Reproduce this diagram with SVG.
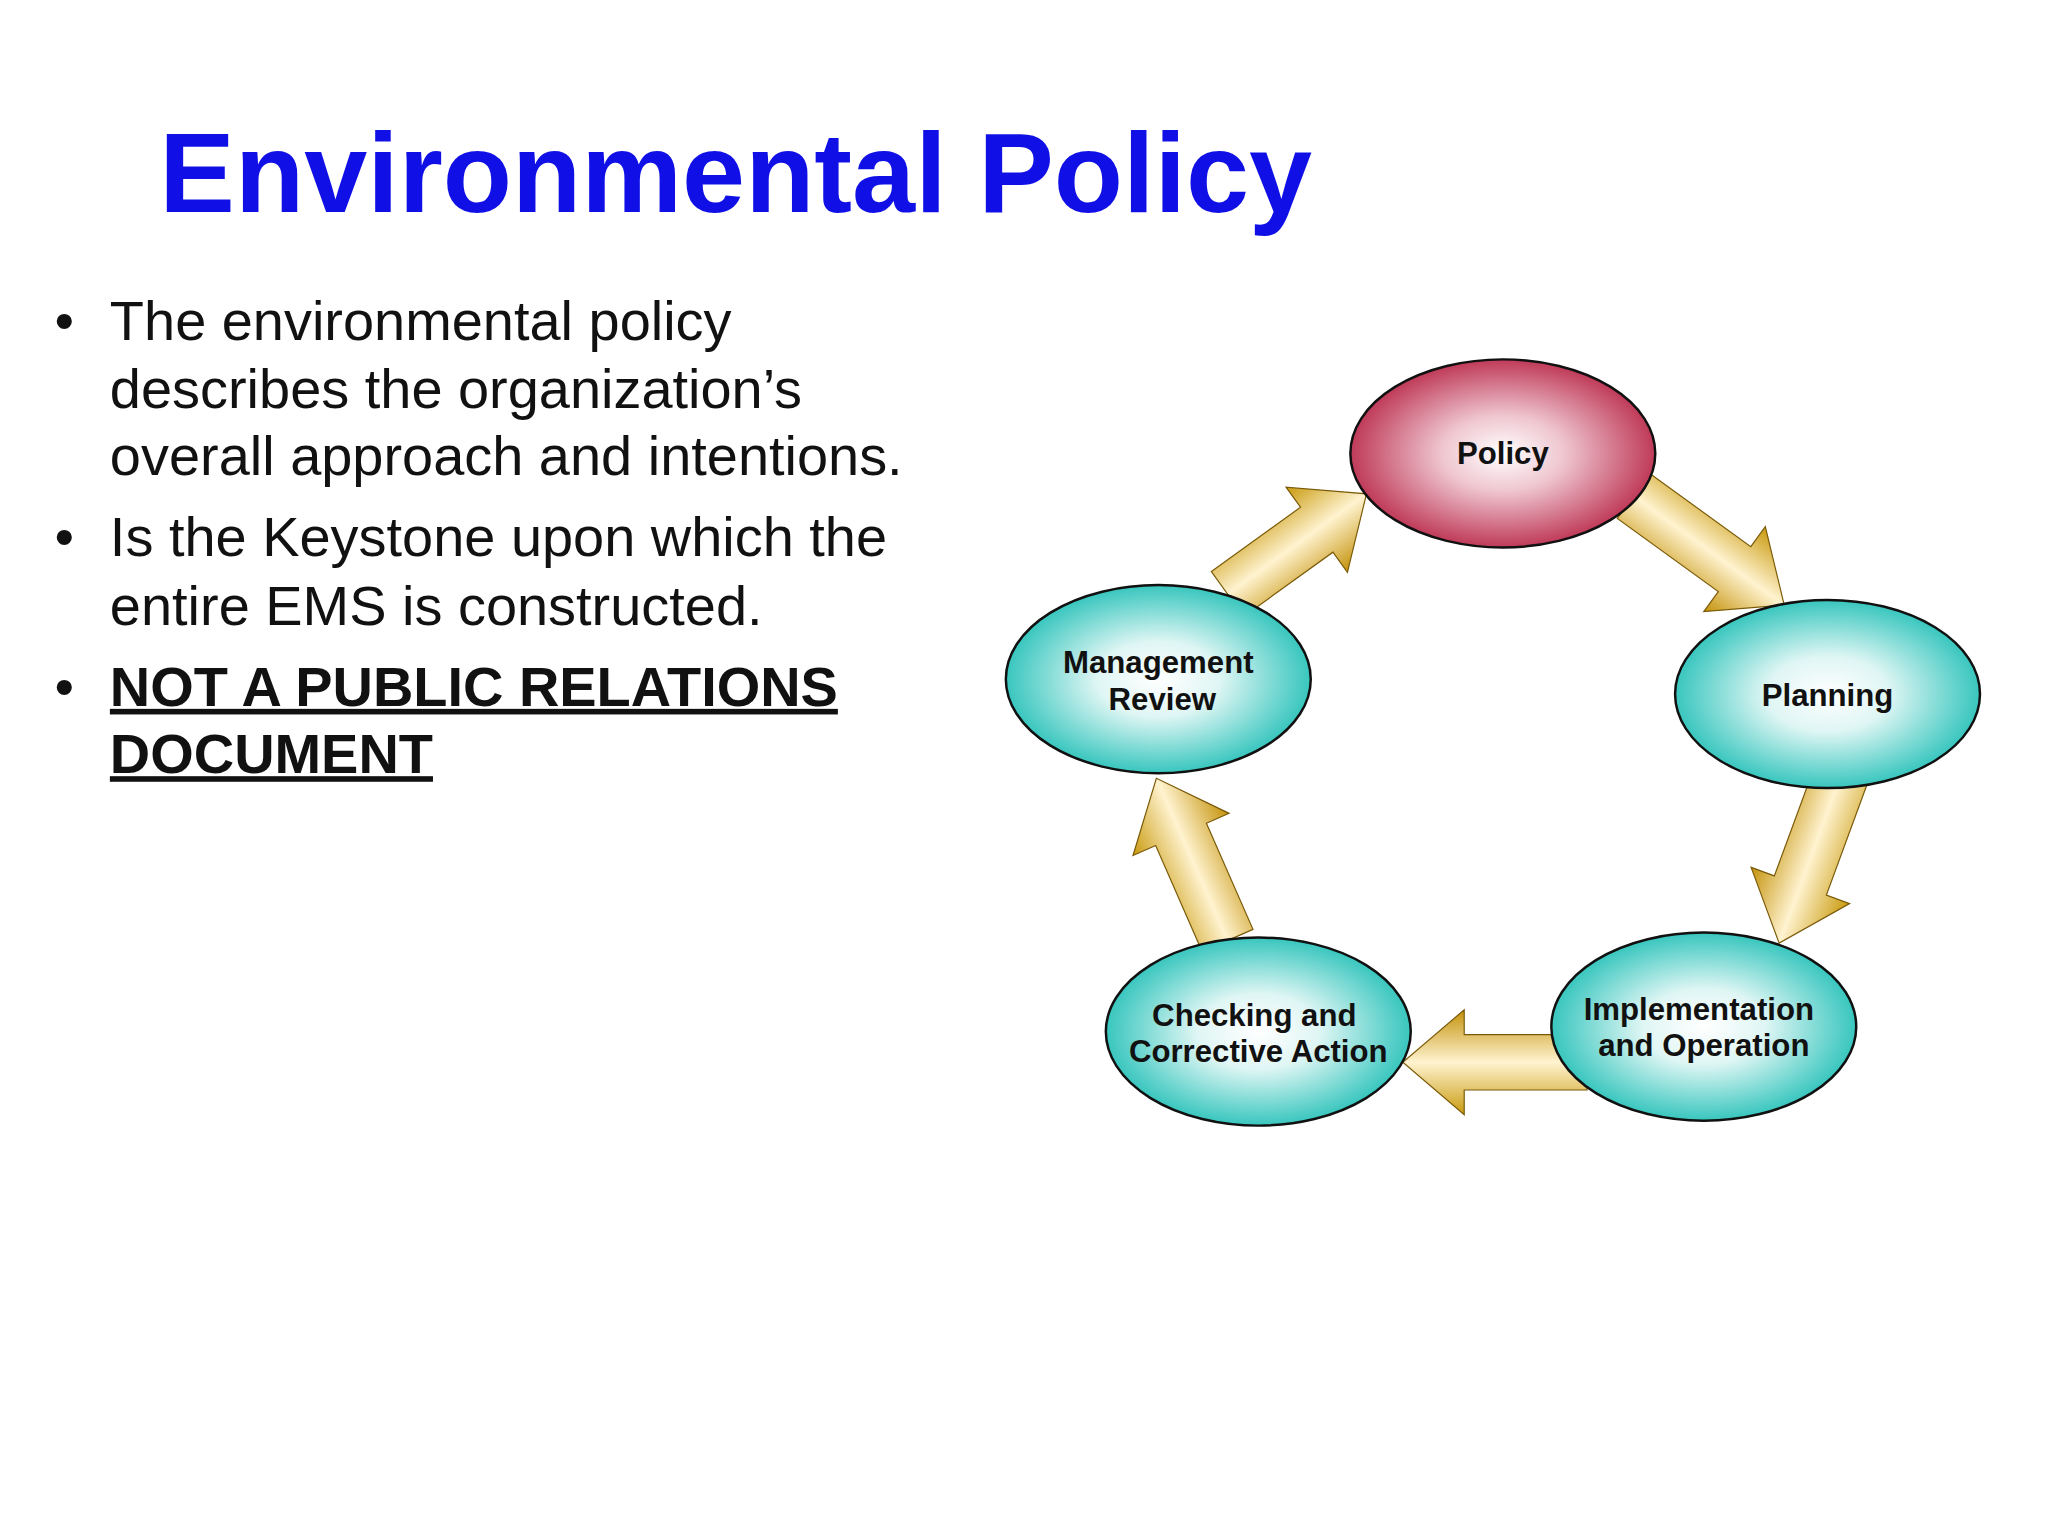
<svg xmlns="http://www.w3.org/2000/svg" width="2048" height="1536" viewBox="0 0 2048 1536">
<style>
.t{font-family:"Liberation Sans",Arial,sans-serif}
.b{font-size:56.5px;fill:#111}
.n{font-size:31.5px;font-weight:bold;fill:#111;text-anchor:middle}
.node{stroke:#111;stroke-width:2.5}
.arr{fill:url(#ag);stroke:#7a5a08;stroke-width:1.2}
</style>
<defs>
<radialGradient id="tg" cx="0.5" cy="0.5" r="0.5">
<stop offset="0" stop-color="#ffffff"/><stop offset="0.4" stop-color="#dff6f4"/><stop offset="1" stop-color="#38c6be"/>
</radialGradient>
<radialGradient id="pg" cx="0.5" cy="0.5" r="0.5">
<stop offset="0" stop-color="#ffffff"/><stop offset="0.4" stop-color="#efc6d0"/><stop offset="1" stop-color="#bf3a58"/>
</radialGradient>
<linearGradient id="ag" x1="0" y1="0" x2="0" y2="1">
<stop offset="0" stop-color="#c99a0e"/><stop offset="0.5" stop-color="#fff3d0"/><stop offset="1" stop-color="#c4920a"/>
</linearGradient>
</defs>
<rect width="2048" height="1536" fill="#fff"/>
<g transform="scale(0.99)">
<text class="t" x="161" y="214" font-size="114.5" font-weight="bold" fill="#1010e6">Environmental Policy</text>
<g id="bullets" class="t b">
<text x="55" y="343">•</text><text x="111" y="343">The environmental policy</text>
<text x="111" y="412">describes the organization’s</text>
<text x="111" y="480">overall approach and intentions.</text>
<text x="55" y="562">•</text><text x="111" y="562">Is the Keystone upon which the</text>
<text x="111" y="631">entire EMS is constructed.</text>
<text x="55" y="713">•</text><text x="111" y="713" font-weight="bold" text-decoration="underline">NOT A PUBLIC RELATIONS</text>
<text x="111" y="781" font-weight="bold" text-decoration="underline">DOCUMENT</text>
</g>
<g id="connectors">
<path class="arr" transform="translate(1650,501) rotate(35.9)" d="M0,-28 H126 V-53 L188,0 L126,53 V28 H0 Z"/>
<path class="arr" transform="translate(1861,779) rotate(110.2)" d="M0,-28 H123 V-53 L185,0 L123,53 V28 H0 Z"/>
<path class="arr" transform="translate(1603,1073) rotate(180)" d="M0,-28 H124 V-53 L186,0 L124,53 V28 H0 Z"/>
<path class="arr" transform="translate(1240,950) rotate(-113.7)" d="M0,-28 H117 V-53 L179,0 L117,53 V28 H0 Z"/>
<path class="arr" transform="translate(1240,600) rotate(-35.8)" d="M0,-28 H111 V-53 L173,0 L111,53 V28 H0 Z"/>
</g>
<g id="policy"><ellipse class="node" cx="1518" cy="458" rx="154" ry="95" fill="url(#pg)"/><text class="t n" x="1518" y="469">Policy</text></g>
<g id="planning"><ellipse class="node" cx="1846" cy="701" rx="154" ry="95" fill="url(#tg)"/><text class="t n" x="1846" y="713">Planning</text></g>
<g id="implementation"><ellipse class="node" cx="1721" cy="1037" rx="154" ry="95" fill="url(#tg)"/><text class="t n" x="1716" y="1030">Implementation</text><text class="t n" x="1721" y="1067">and Operation</text></g>
<g id="checking"><ellipse class="node" cx="1271" cy="1042" rx="154" ry="95" fill="url(#tg)"/><text class="t n" x="1267" y="1036">Checking and</text><text class="t n" x="1271" y="1073">Corrective Action</text></g>
<g id="management"><ellipse class="node" cx="1170" cy="686" rx="154" ry="95" fill="url(#tg)"/><text class="t n" x="1170" y="680">Management</text><text class="t n" x="1174" y="717">Review</text></g>
</g>
</svg>
